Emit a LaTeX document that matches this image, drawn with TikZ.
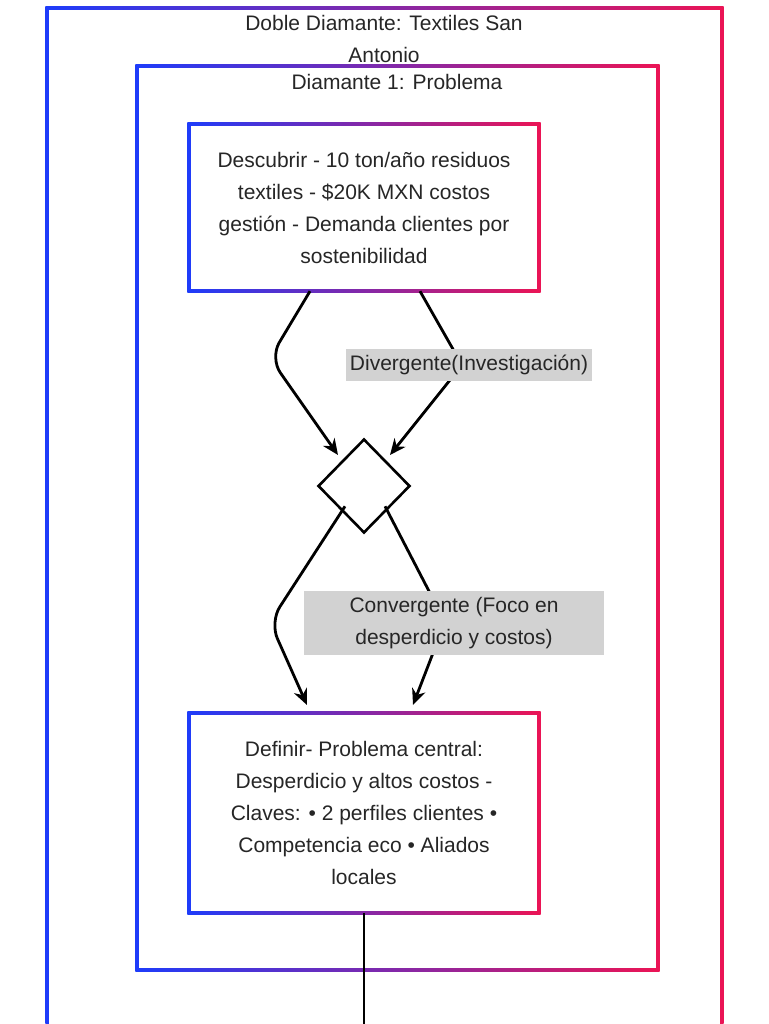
\documentclass[tikz,border=0pt]{standalone}
\usepackage{fontspec}
\setmainfont{Liberation Sans}
\usetikzlibrary{shapes.geometric,calc,arrows.meta}
\definecolor{gblue}{RGB}{30,60,250}
\definecolor{gred}{RGB}{235,20,85}
\definecolor{lblgray}{RGB}{210,210,210}
\newcommand{\gbox}[4]{%
  \shade[left color=gblue,right color=gred] (#1-1.6,#2-1.6) rectangle (#3+1.6,#4+1.6);
  \fill[white] (#1+1.6,#2+1.6) rectangle (#3-1.6,#4-1.6);}
\begin{document}
\begin{tikzpicture}[x=1pt,y=-1pt,
  txt/.style={font=\fontsize{21}{32}\selectfont,text=black!85,align=center},
  box/.style={txt,minimum width=350,minimum height=167},
  lbl/.style={txt,fill=lblgray,inner sep=4pt},
  arr/.style={line width=2.8pt,rounded corners=18,-{Stealth[length=16pt,width=14pt]}}]
\useasboundingbox (0,0) rectangle (768,1024);
\fill[white] (0,0) rectangle (768,1024);
\gbox{47}{8}{722}{1040}
\gbox{137}{66}{658}{970}
\gbox{189}{124}{539}{291}
\gbox{189}{713}{539}{913}
\node[txt] (t0) at (384,39) {Doble Diamante: Textiles San\\Antonio};
\node[txt] (t1) at (397,82) {Diamante 1: Problema};
\node[box] (b1) at (364,207.5) {Descubrir - 10 ton/año residuos\\textiles - \$20K MXN costos\\gestión - Demanda clientes por\\sostenibilidad};
\node[box,minimum height=200] (b2) at (364,813) {Definir- Problema central:\\Desperdicio y altos costos -\\Claves: • 2 perfiles clientes •\\Competencia eco • Aliados\\locales};
\node[diamond,draw,line width=2.6pt,fill=white,minimum width=92,minimum height=94,inner sep=0] (d) at (364,486) {};
\coordinate (bl1) at ($(b1.south)+(-54,0)$);
\coordinate (br1) at ($(b1.south)+(56,0)$);
\coordinate (dl) at ($(d.south)+(-19,-28)$);
\coordinate (dr) at ($(d.south)+(21,-28)$);
\draw[arr] (bl1) -- (270,358) -- (338,455);
\draw[arr] (br1) -- (462,365) -- (390,455);
\draw[arr] (dl) -- (270,622) -- (307,705);
\draw[arr] (dr) -- (445,622) -- (413,705);
\node[lbl,minimum width=242,minimum height=32] (l1) at (469,365) {Divergente(Investigación)};
\node[lbl,minimum width=300,minimum height=64] (l2) at (454,623) {Convergente (Foco en\\desperdicio y costos)};
\coordinate (bot) at (364,1024);
\draw[line width=2.8pt] (b2.south) -- (bot);
\end{tikzpicture}
\end{document}
